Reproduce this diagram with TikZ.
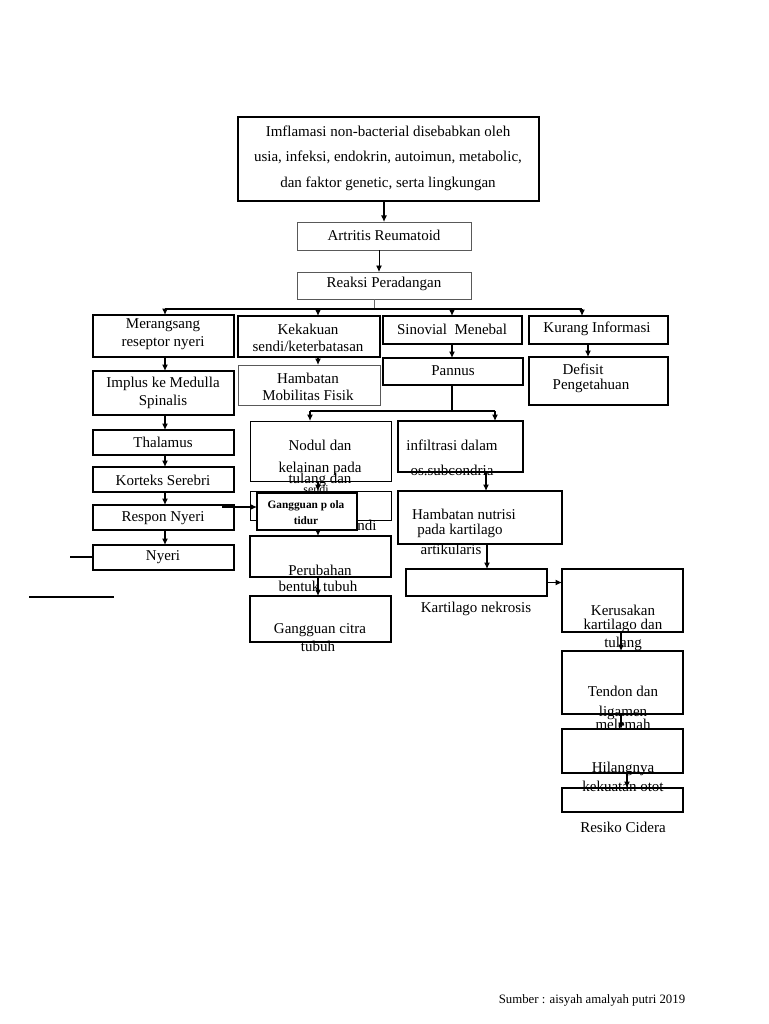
\documentclass[tikz,border=0pt]{standalone}
\usepackage{fontspec}
\setmainfont{Liberation Serif}
\usetikzlibrary{arrows.meta}
\begin{document}
\begin{tikzpicture}[x=1pt,y=-1pt,
  bx/.style={draw, anchor=north west, inner sep=0pt, outer sep=0pt},
  thinbox/.style={bx, line width=0.8pt},
  greybox/.style={bx, line width=0.8pt, draw=black!65},
  medbox/.style={bx, line width=1.4pt},
  thickbox/.style={bx, line width=2.2pt},
  txt/.style={inner sep=0pt, align=center, font=\fontsize{15}{17.5}\selectfont},
  small/.style={inner sep=0pt, align=center, font=\fontsize{11.3}{14}\selectfont\bfseries},
  conn/.style={line width=1.1pt},
  arr/.style={conn, -{Latex[length=6.5pt,width=6pt]}}
]
\useasboundingbox (0,0) rectangle (768,1024);
\fill[white] (0,0) rectangle (768,1024);

% ---------- boxes ----------
\node[thickbox, minimum width=301pt, minimum height=84pt] (top) at (238,117) {};
\node[greybox, minimum width=174pt, minimum height=28pt] (art) at (297,222) {};
\node[greybox, minimum width=174pt, minimum height=27pt] (rea) at (297,272) {};

\node[thickbox, minimum width=141pt, minimum height=42pt] (m1) at (93,315) {};
\node[medbox, minimum width=142pt, minimum height=41pt] (kek) at (238,316) {};
\node[medbox, minimum width=139pt, minimum height=28pt] (sin) at (383,316) {};
\node[medbox, minimum width=139pt, minimum height=28pt] (kur) at (529,316) {};

\node[greybox, minimum width=142pt, minimum height=40pt] (ham) at (238,365) {};
\node[medbox, minimum width=140pt, minimum height=27pt] (pan) at (383,358) {};
\node[medbox, minimum width=139pt, minimum height=48pt] (def) at (529,357) {};

\node[thickbox, minimum width=141pt, minimum height=44pt] (m2) at (93,371) {};
\node[thickbox, minimum width=141pt, minimum height=25pt] (m3) at (93,430) {};
\node[thickbox, minimum width=141pt, minimum height=25pt] (m4) at (93,467) {};
\node[medbox, minimum width=141pt, minimum height=25pt] (m5) at (93,505) {};
\node[thickbox, minimum width=141pt, minimum height=25pt] (m6) at (93,545) {};

\node[thinbox, minimum width=141pt, minimum height=60pt] (nod) at (250,421) {};
\node[medbox, minimum width=125pt, minimum height=51pt] (inf) at (398,421) {};
\node[thinbox, minimum width=141pt, minimum height=29pt] (hid) at (250,491) {};
\node[medbox, minimum width=141pt, minimum height=41pt] (per) at (250,536) {};
\node[medbox, minimum width=141pt, minimum height=46pt] (gct) at (250,596) {};

\node[thickbox, minimum width=164pt, minimum height=53pt] (hnu) at (398,491) {};
\node[thickbox, minimum width=141pt, minimum height=27pt] (kar) at (406,569) {};
\node[medbox, minimum width=121pt, minimum height=63pt] (ker) at (562,569) {};
\node[medbox, minimum width=121pt, minimum height=63pt] (ten) at (562,651) {};
\node[medbox, minimum width=121pt, minimum height=44pt] (hil) at (562,729) {};
\node[medbox, minimum width=121pt, minimum height=24pt] (res) at (562,788) {};

% ---------- texts ----------
\node[txt, font=\fontsize{15}{25.5}\selectfont] (toptxt) at (388,158)
  {Imflamasi non-bacterial disebabkan oleh\\usia, infeksi, endokrin, autoimun, metabolic,\\dan faktor genetic, serta lingkungan};
\node[txt] (arttxt) at (384,235) {Artritis Reumatoid};
\node[txt] (reatxt) at (384,284) {Reaksi Peradangan};

\node[txt] (m1txt) at (163,334) {Merangsang\\reseptor nyeri};
\node[txt] (kektxt) at (308,338) {Kekakuan\\sendi/keterbatasan};
\node[txt] (sintxt) at (452,329) {Sinovial\ \ Menebal};
\node[txt] (kurtxt) at (597,329) {Kurang Informasi};
\node[txt] (hamtxt) at (308,387) {Hambatan\\Mobilitas Fisik};
\node[txt] (pantxt) at (453,371) {Pannus};
\node[txt] (deftxt1) at (583,369) {Defisit};
\node[txt] (deftxt2) at (591,386) {Pengetahuan};

\node[txt] (m2txt) at (163,393) {Implus ke Medulla\\Spinalis};
\node[txt] (m3txt) at (163,442) {Thalamus};
\node[txt] (m4txt) at (163,480) {Korteks Serebri};
\node[txt] (m5txt) at (163,518) {Respon Nyeri};
\node[txt] (m6txt) at (163,557) {Nyeri};

\node[txt] (nodt1) at (320,445) {Nodul dan};
\node[txt] (nodt2) at (320,469) {kelainan pada};
\node[txt] (nodt3) at (320,480) {tulang dan};
\node[txt, font=\fontsize{12}{13}\selectfont] (nodt4) at (316,489) {sendi};
\node[txt] (inft1) at (452,445) {infiltrasi dalam};
\node[txt] (inft2) at (452,470) {os.subcondria};
\node[txt] (hidt) at (367,525) {ndi};

\node[txt] (pert1) at (320,570) {Perubahan};
\node[txt] (pert2) at (318,586) {bentuk tubuh};
\node[txt] (gctt1) at (320,630) {Gangguan citra};
\node[txt] (gctt2) at (318,646) {tubuh};

\node[txt] (hnut1) at (464,514) {Hambatan nutrisi};
\node[txt] (hnut2) at (460,531) {pada kartilago};
\node[txt] (hnut3) at (451,549) {artikularis};
\node[txt] (kart) at (476,609) {Kartilago nekrosis};

\node[txt] (kert1) at (623,610) {Kerusakan};
\node[txt] (kert2) at (623,626) {kartilago dan};
\node[txt] (kert3) at (623,644) {tulang};
\node[txt] (tent1) at (623,691) {Tendon dan};
\node[txt] (tent2) at (623,713) {ligamen};
\node[txt] (tent3) at (623,724) {melemah};
\node[txt] (hilt1) at (623,769) {Hilangnya};
\node[txt] (hilt2) at (623,786) {kekuatan otot};
\node[txt] (rest) at (623,827) {Resiko Cidera};

\node[inner sep=0pt, font=\fontsize{12.8}{14}\selectfont] (src) at (592,1000) {Sumber : aisyah amalyah putri 2019};

% ---------- connectors ----------
\draw[arr] (art.north |- top.south) -- (art.north);
\draw[arr, line width=0.8pt] ([xshift=-5pt]art.south) -- ([xshift=-5pt]rea.north);

\coordinate (bs) at (374,309);
\coordinate (b1) at (165,309);
\coordinate (b2) at (318,309);
\coordinate (b3) at (452,309);
\coordinate (b4) at (582,309);
\draw[conn, line width=0.7pt, draw=black!60] (bs |- rea.south) -- (bs);
\draw[conn] (b1) -- (b4);
\draw[arr] (b1) -- (b1 |- m1.north);
\draw[arr] (b2) -- (b2 |- kek.north);
\draw[arr] (b3) -- (b3 |- sin.north);
\draw[arr] (b4) -- (b4 |- kur.north);

\coordinate (cm) at (165,0);
\draw[arr] (cm |- m1.south) -- (cm |- m2.north);
\draw[arr] (cm |- m2.south) -- (cm |- m3.north);
\draw[arr] (cm |- m3.south) -- (cm |- m4.north);
\draw[arr] (cm |- m4.south) -- (cm |- m5.north);
\draw[arr] (cm |- m5.south) -- (cm |- m6.north);

\draw[arr] (b2 |- kek.south) -- (b2 |- ham.north);
\draw[arr] (b3 |- sin.south) -- (b3 |- pan.north);
\coordinate (ck) at (588,0);
\draw[arr] (ck |- kur.south) -- (ck |- def.north);

\coordinate (p0) at (452,411);
\coordinate (p1) at (310,411);
\coordinate (p2) at (495,411);
\draw[conn] (p0 |- pan.south) -- (p0);
\draw[conn] (p1) -- (p2);
\draw[arr] (p1) -- (p1 |- nod.north);
\draw[arr] (p2) -- (p2 |- inf.north);

\draw[arr] (b2 |- nod.south) -- (b2 |- hid.north);

% Gangguan pola tidur box (on top)
\node[thickbox, fill=white, minimum width=100pt, minimum height=37pt] (gpt) at (257,493) {};
\node[small] (gptt1) at (306,506) {Gangguan p ola};
\node[small] (gptt2) at (306,521) {tidur};
\coordinate (gin) at (222,507);
\draw[arr] (gin) -- (gin -| gpt.west);

\draw[arr] (b2 |- gpt.south) -- (b2 |- per.north);
\draw[arr] (b2 |- per.south) -- (b2 |- gct.north);

\coordinate (ci) at (486,0);
\draw[arr] (ci |- inf.south) -- (ci |- hnu.north);
\coordinate (ch) at (487,0);
\draw[arr] (ch |- hnu.south) -- (ch |- kar.north);
\draw[arr] (kar.east) -- (kar.east -| ker.west);

\coordinate (cr) at (621,0);
\draw[arr] (cr |- ker.south) -- (cr |- ten.north);
\draw[arr] (cr |- ten.south) -- (cr |- hil.north);
\coordinate (cr2) at (627,0);
\draw[arr] (cr2 |- hil.south) -- (cr2 |- res.north);

% stray lines
\coordinate (nl) at (70,557);
\draw[conn, line width=1.5pt] (nl) -- (nl -| m6.west);
\coordinate (sl1) at (29,597);
\coordinate (sl2) at (114,597);
\draw[conn, line width=1.8pt] (sl1) -- (sl2);
\end{tikzpicture}
\end{document}
